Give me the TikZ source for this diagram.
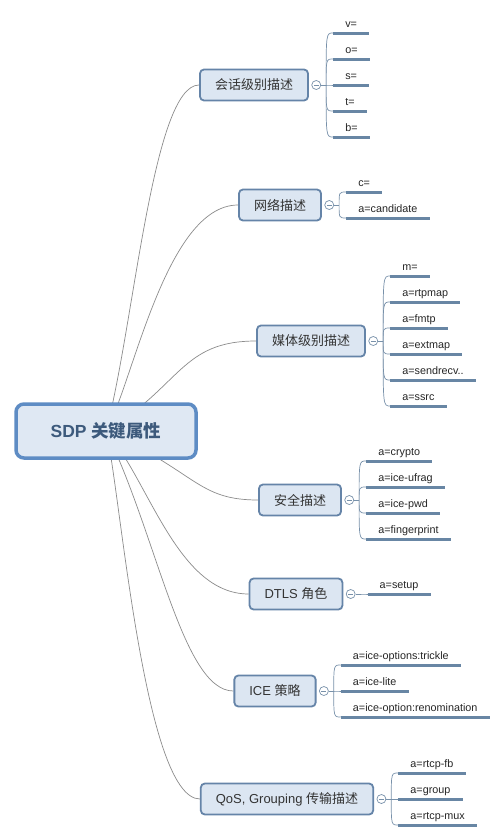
\documentclass[tikz,border=0pt]{standalone}
\usepackage{fontspec}
\setmainfont{Liberation Sans}
\newfontfamily\cjk{Noto Sans CJK SC}
\usepackage{tikz}
\usetikzlibrary{positioning, calc, backgrounds}
\definecolor{rootline}{HTML}{5E8CC4}
\definecolor{rootfill}{HTML}{DFE8F3}
\definecolor{roottext}{HTML}{3D5A7C}
\definecolor{boxline}{HTML}{6584A8}
\definecolor{boxfill}{HTML}{DCE6F2}
\definecolor{stemc}{HTML}{6886A4}
\definecolor{twigc}{HTML}{7891AA}
\definecolor{linkc}{HTML}{8C8C8C}

\begin{document}
\begin{tikzpicture}[x=1pt, y=-1pt,
    root/.style={draw=rootline, line width=3.5pt, fill=rootfill, rounded corners=8pt,
      minimum width=180pt, minimum height=54pt, text=roottext,
      font=\fontsize{17.5}{20}\selectfont\bfseries},
    topic/.style={draw=boxline, line width=1.8pt, fill=boxfill, rounded corners=4pt,
      minimum height=31pt, inner xsep=15pt, text=black!80, font=\fontsize{13}{15}\selectfont},
    fold/.style={circle, draw=twigc, line width=0.7pt, fill=white, minimum size=9pt, inner sep=0pt,
      path picture={\draw[twigc, line width=0.6pt] ([xshift=-2.4pt]path picture bounding box.center)
        -- ([xshift=2.4pt]path picture bounding box.center);}},
    leaf/.style={anchor=south west, inner xsep=12pt, inner ysep=3.5pt, text height=7.5pt,
      text depth=2pt, text=black!85, font=\fontsize{10.8}{12}\selectfont},
    stem/.style={stemc, line width=3pt},
    twig/.style={twigc, line width=0.7pt},
    link/.style={linkc, line width=0.7pt}]
  \begin{scope}[on background layer]
    \fill[white] (0,0) rectangle (503,835);
  \end{scope}
  \useasboundingbox (0,0) rectangle (503,835);

  \node[root] (root) at (106,431) {SDP {\cjk 关键属性}};

  % branch: name / centre / text / leaf count / leaves / bend of the link
  \foreach \k/\x/\y/\txt/\n/\leaves/\ca/\cb in {
      1/254/85/{\cjk 会话级别描述}/5/{v=,o=,s=,t=,b=}/0.3/0.5,
      2/280/205/{\cjk 网络描述}/2/{c=,a=candidate}/0.2/0.55,
      3/311/341/{\cjk 媒体级别描述}/6/{m=,a=rtpmap,a=fmtp,a=extmap,{a=sendrecv..},a=ssrc}/0.5/0.5,
      4/300/500/{\cjk 安全描述}/4/{a=crypto,a=ice-ufrag,a=ice-pwd,a=fingerprint}/0.6/0.4,
      5/296/594/{DTLS {\cjk 角色}}/1/{a=setup}/0.3/0.5,
      6/275/691/{ICE {\cjk 策略}}/3/{a=ice-options:trickle,a=ice-lite,a=ice-option:renomination}/0.4/0.4,
      7/287/799/{QoS, Grouping {\cjk 传输描述}}/3/{a=rtcp-fb,a=group,a=rtcp-mux}/0.15/0.6}{
    \node[topic] (b\k) at (\x,\y) {\txt};
    \node[fold, right=2.5pt of b\k] (f\k) {};
    \coordinate[right=5pt of f\k] (j\k);
    \coordinate[right=7pt of j\k] (s\k);
    \draw[twig] (f\k) -- (j\k);
    \begin{scope}[on background layer]
      \draw[link] let \p1=(root.center), \p2=(b\k.west) in
        (\p1) .. controls ({\x1+\ca*(\x2-\x1)},{\y1+\ca*(\y2-\y1)})
          and ({\x2-\cb*(\x2-\x1)},\y2) .. (\p2);
    \end{scope}
    \foreach \lab [count=\i] in \leaves {
      \node[leaf] (l\k-\i) at ([yshift={(\n+1)*13-\i*26}]s\k) {\lab};
      \draw[twig] (j\k) .. controls (j\k |- l\k-\i.south west) .. (l\k-\i.south west);
      \draw[stem] (l\k-\i.south west) -- (l\k-\i.south east);
    }
  }
\end{tikzpicture}
\end{document}
